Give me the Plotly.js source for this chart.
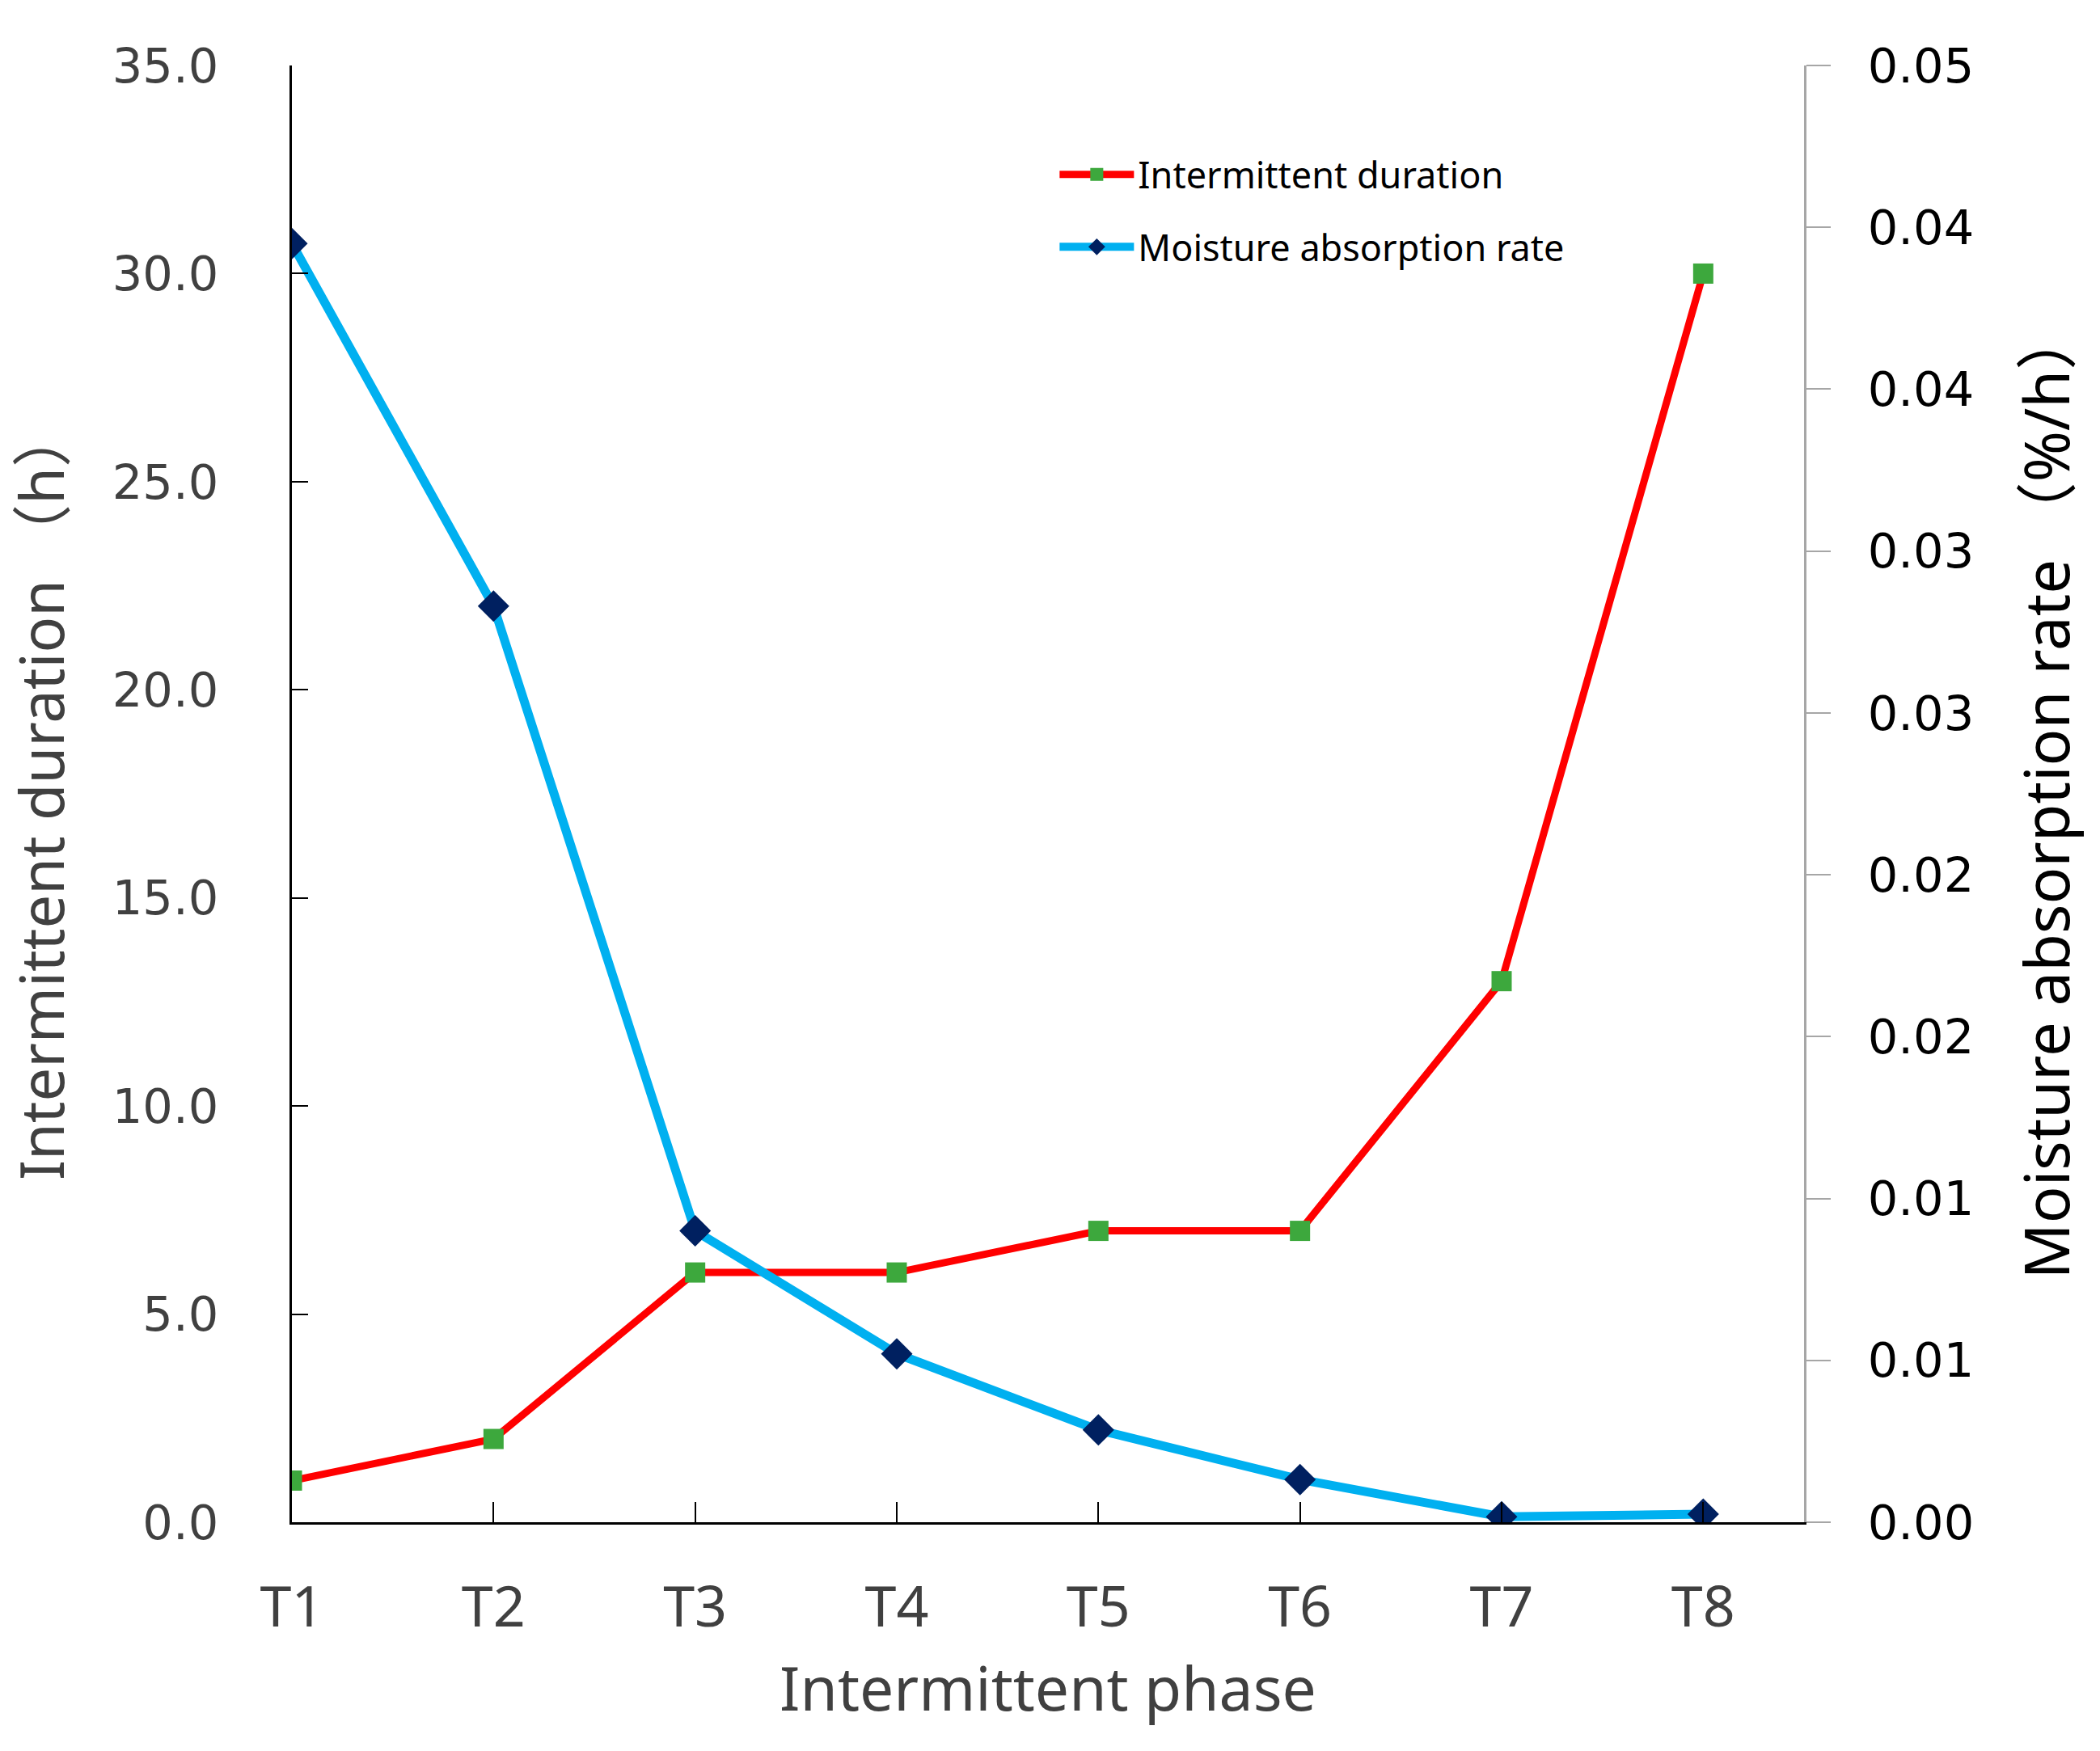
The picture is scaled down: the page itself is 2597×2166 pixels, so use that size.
<!DOCTYPE html>
<html><head><meta charset="utf-8">
<script src="https://cdn.plot.ly/plotly-3.0.1.min.js"></script>
<style>html,body{margin:0;padding:0;background:#fff}</style>
</head><body><div id="chart" style="width:2597px;height:2166px"></div>
<script>
const phases = ['T1','T2','T3','T4','T5','T6','T7','T8'];
const intermittentDuration = [1.0, 2.0, 6.0, 6.0, 7.0, 7.0, 13.0, 30.0];
const absorptionRate = [0.0395, 0.0283, 0.0090, 0.0052, 0.00285, 0.00132, 0.00017, 0.00025];
const durationTickVals = [0, 5, 10, 15, 20, 25, 30, 35];
const durationTickText = ['0.0','5.0','10.0','15.0','20.0','25.0','30.0','35.0'];
const rateTickVals = [0, 0.005, 0.01, 0.015, 0.02, 0.025, 0.03, 0.035, 0.04, 0.045];
const rateTickText = ['0.00','0.01','0.01','0.02','0.02','0.03','0.03','0.04','0.04','0.05'];

const titleFont = 'Noto Sans, Noto Sans CJK SC, sans-serif';
const data = [
  {
    x: phases, y: intermittentDuration, name: 'Intermittent duration',
    type: 'scatter', mode: 'lines+markers', yaxis: 'y', legendgroup: 'a',
    line: {color: '#FF0000', width: 9},
    marker: {symbol: 'square', size: 25, color: '#3DA83D'}
  },
  {
    x: phases, y: absorptionRate, name: 'Moisture absorption rate',
    type: 'scatter', mode: 'lines+markers', yaxis: 'y2', legendgroup: 'b',
    line: {color: '#00B0F0', width: 11},
    marker: {symbol: 'diamond', size: 30, color: '#002060'}
  }
];
const layout = {
  width: 2597, height: 2166,
  margin: {l: 361, r: 366, t: 81, b: 283},
  paper_bgcolor: '#ffffff', plot_bgcolor: '#ffffff',
  showlegend: true,
  legend: {
    x: 0.505, y: 0.945, xanchor: 'left', yanchor: 'top',
    bgcolor: 'rgba(0,0,0,0)', font: {family: titleFont, size: 45, color: '#000000'},
    tracegroupgap: 28, itemwidth: 92
  },
  xaxis: {
    type: 'category', range: [0, 7.5],
    showline: true, linecolor: '#000000', linewidth: 3,
    ticks: 'inside', ticklen: 25, tickwidth: 2, tickcolor: '#000000',
    showgrid: false, zeroline: false,
    tickfont: {family: titleFont, size: 70, color: '#404040'},
    ticklabelstandoff: 42,
    title: {text: 'Intermittent phase', font: {family: titleFont, size: 75, color: '#404040'}, standoff: 32}
  },
  yaxis: {
    range: [0, 35], tickvals: durationTickVals, ticktext: durationTickText,
    showline: true, linecolor: '#000000', linewidth: 3,
    ticks: 'inside', ticklen: 20, tickwidth: 2, tickcolor: '#000000',
    showgrid: false, zeroline: false,
    tickfont: {family: 'DejaVu Sans, sans-serif', size: 59, color: '#404040'},
    ticklabelstandoff: 76,
    title: {text: 'Intermittent duration （h）', font: {family: titleFont, size: 74, color: '#404040'}, standoff: 36}
  },
  yaxis2: {
    overlaying: 'y', side: 'right',
    range: [0, 0.045], tickvals: rateTickVals, ticktext: rateTickText,
    showline: true, linecolor: '#A6A6A6', linewidth: 3,
    ticks: 'outside', ticklen: 30, tickwidth: 2, tickcolor: '#A6A6A6',
    showgrid: false, zeroline: false,
    tickfont: {family: 'DejaVu Sans, sans-serif', size: 59, color: '#000000'},
    ticklabelstandoff: 34,
    title: {text: 'Moisture absorption rate （%/h）', font: {family: titleFont, size: 76, color: '#000000'}, standoff: 66}
  }
};
Plotly.newPlot('chart', data, layout, {displayModeBar: false, staticPlot: true});
</script></body></html>
